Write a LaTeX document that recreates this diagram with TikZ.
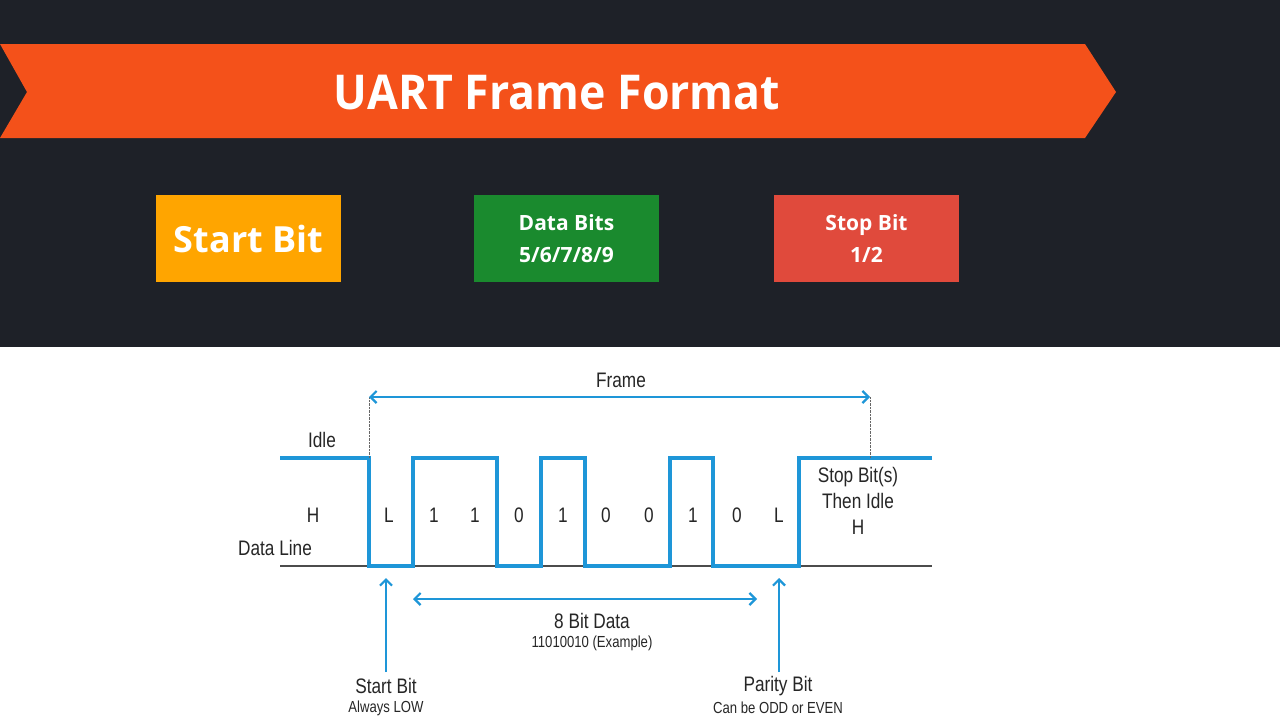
\documentclass[tikz,border=0pt]{standalone}
\usepackage{fontspec}
\setmainfont{Open Sans}
\newfontfamily\cond[FakeStretch=0.82]{Liberation Sans}
\usetikzlibrary{arrows.meta}
\definecolor{bg}{HTML}{1E2128}
\definecolor{ban}{HTML}{F4511A}
\definecolor{orng}{HTML}{FFA500}
\definecolor{grn}{HTML}{1A8A2E}
\definecolor{rd}{HTML}{E04A3C}
\definecolor{sig}{HTML}{1E96D8}
\tikzset{
 box/.style={minimum width=185pt,minimum height=87pt,inner sep=0pt,text=white,font=\bfseries,align=center},
 lbl/.style={font=\cond\fontsize{21}{22}\selectfont,text=black!85,inner sep=0pt},
 small/.style={font=\cond\fontsize{16}{17}\selectfont,text=black!85,inner sep=0pt},
 blarr/.style={sig,line width=2.2pt,{Straight Barb[length=6pt,width=12pt]}-{Straight Barb[length=6pt,width=12pt]}},
 uparr/.style={sig,line width=2.2pt,-{Straight Barb[length=6pt,width=12pt]}}
}
\begin{document}
\begin{tikzpicture}[x=1pt,y=-1pt]
\useasboundingbox (0,0) rectangle (1280,720);
\fill[bg] (0,0) rectangle (1280,347);
\fill[white] (0,347) rectangle (1280,720);
\fill[ban] (0,44) -- (1085,44) -- (1116,92) -- (1085,138) -- (0,138) -- (27,92) -- cycle;
\node[text=white,font=\fontsize{48}{50}\selectfont\bfseries\addfontfeatures{FakeStretch=0.93}] (title) at (557,93) {UART Frame Format};
\node[box,fill=orng,font=\fontsize{36}{40}\selectfont\bfseries] (sb) at (248.5,238.5) {Start Bit};
\node[box,fill=grn,font=\fontsize{21}{32}\selectfont\bfseries] (db) at (566.5,238.5) {Data Bits\\5/6/7/8/9};
\node[box,fill=rd,font=\fontsize{21}{32}\selectfont\bfseries] (st) at (866.5,238.5) {Stop Bit\\1/2};
\draw[black!70,line width=1.2pt] (280,566) -- (932,566);
\draw[sig,line width=3.5pt,line join=miter] (280,458) -- (369,458) -- (369,566) -- (413,566) -- (413,458) -- (497,458) -- (497,566) -- (541,566) -- (541,458) -- (585,458) -- (585,566) -- (670,566) -- (670,458) -- (713,458) -- (713,566) -- (799,566) -- (799,458) -- (932,458);
\coordinate (fl) at (369,397); \coordinate (fr) at (870,397);
\draw[black!60,densely dotted] (fl) -- (369,458);
\draw[black!60,densely dotted] (fr) -- (870,458);
\draw[blarr] (fl) -- (fr);
\node[lbl] (frame) at (621,380) {Frame};
\node[lbl] (idle) at (322,440) {Idle};
\node[lbl] (dl) at (275,548) {Data Line};
\foreach \x/\t [count=\i] in {313/H,389/L,434/1,475/1,519/0,563/1,606/0,649/0,693/1,737/0,779/L}
  \node[lbl] (b\i) at (\x,515) {\t};
\node[lbl,align=center,font=\cond\fontsize{21}{26}\selectfont] (stop) at (858,501) {Stop Bit(s)\\Then Idle\\H};
\coordinate (dl1) at (413,599); \coordinate (dl2) at (757,599);
\draw[blarr] (dl1) -- (dl2);
\node[lbl] (eight) at (592,621) {8 Bit Data};
\node[small] (ex) at (592,643) {11010010 (Example)};
\coordinate (sa) at (386,672); \coordinate (sa2) at (386,578);
\coordinate (pa) at (779,672); \coordinate (pa2) at (779,578);
\draw[uparr] (sa) -- (sa2);
\draw[uparr] (pa) -- (pa2);
\node[lbl] (stl) at (386,686) {Start Bit};
\node[small] (stl2) at (386,708) {Always LOW};
\node[lbl] (pl) at (778,686) {Parity Bit};
\node[small] (pl2) at (778,708) {Can be ODD or EVEN};
\end{tikzpicture}
\end{document}
